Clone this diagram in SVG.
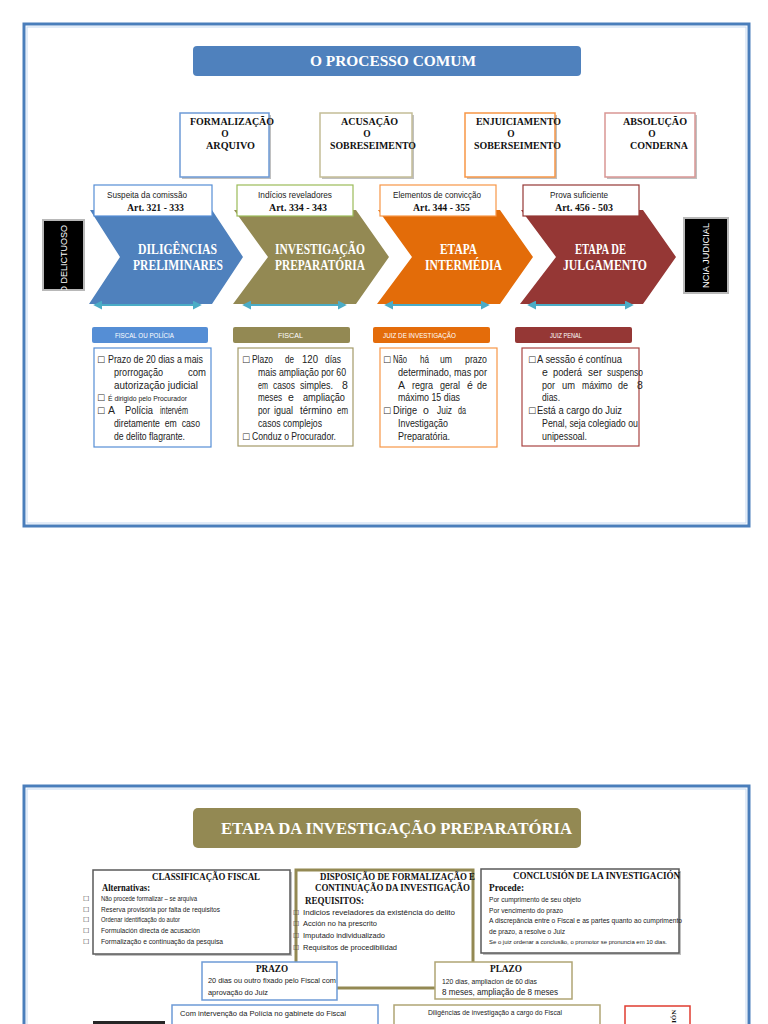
<svg xmlns="http://www.w3.org/2000/svg" width="768" height="1024" viewBox="0 0 768 1024">
<defs>
<style>
.sv{font-family:"Liberation Serif","Times New Roman",serif;font-weight:bold;fill:#111;}
.hw{font-family:"Liberation Serif","Times New Roman",serif;font-weight:bold;fill:#fff;}
.ss{font-family:"Liberation Sans",Arial,sans-serif;fill:#222;}
.t{font-family:"Liberation Sans",Arial,sans-serif;font-size:10.5px;fill:#222;}
.s7{font-family:"Liberation Sans",Arial,sans-serif;font-size:7px;fill:#222;}
.cb{font-family:"DejaVu Sans",sans-serif;font-size:9px;fill:#333;}
.lw{font-family:"Liberation Sans",Arial,sans-serif;font-size:7px;fill:#fff;}
.frame{fill:#fff;stroke:#4a7ebb;stroke-width:3;}
.frin{fill:none;stroke:#c6d9f1;stroke-width:1;}
.shadow{fill:#8c8c8c;opacity:0.55;}
.dbl{stroke:#4bacc6;stroke-width:2;fill:none;marker-start:url(#ah);marker-end:url(#ah);}
</style>
<marker id="ah" viewBox="0 0 10 10" refX="8" refY="5" markerWidth="4.5" markerHeight="4.5" orient="auto-start-reverse"><path d="M0,0 L10,5 L0,10 z" fill="#4bacc6"/></marker>
<clipPath id="clL"><rect x="43" y="220" width="41" height="70"/></clipPath>
<clipPath id="clR"><rect x="684" y="218" width="44" height="75"/></clipPath>
</defs>

<!-- PANEL 1 -->
<rect class="frame" x="24" y="24" width="725" height="502"/>
<rect class="frin" x="27" y="27" width="719" height="496"/>

<g id="title1">
<rect x="193" y="46" width="388" height="30" rx="4" fill="#4f81bd"/>
<text class="hw" x="310" y="66" font-size="15" textLength="166" lengthAdjust="spacingAndGlyphs">O PROCESSO COMUM</text>
</g>

<g id="box-formalizacao">
<rect class="shadow" x="182" y="115" width="89" height="64"/>
<rect x="180" y="113" width="89" height="64" fill="#fff" stroke="#6d9ad6" stroke-width="1.5"/>
<text class="sv" x="190" y="125" font-size="9.5" textLength="84" lengthAdjust="spacingAndGlyphs">FORMALIZAÇÃO</text>
<text class="sv" x="225" y="137" font-size="9.5" text-anchor="middle">O</text>
<text class="sv" x="206" y="149" font-size="9.5" textLength="49" lengthAdjust="spacingAndGlyphs">ARQUIVO</text>
</g>
<g id="box-acusacao">
<rect class="shadow" x="322" y="115" width="92" height="64"/>
<rect x="320" y="113" width="92" height="64" fill="#fff" stroke="#c4bd97" stroke-width="1.5"/>
<text class="sv" x="341" y="125" font-size="9.5" textLength="57" lengthAdjust="spacingAndGlyphs">ACUSAÇÃO</text>
<text class="sv" x="367" y="137" font-size="9.5" text-anchor="middle">O</text>
<text class="sv" x="330" y="149" font-size="9.5" textLength="86" lengthAdjust="spacingAndGlyphs">SOBRESEIMENTO</text>
</g>
<g id="box-enjuiciamento">
<rect class="shadow" x="467" y="115" width="90" height="64"/>
<rect x="465" y="113" width="90" height="64" fill="#fff" stroke="#f79646" stroke-width="1.5"/>
<text class="sv" x="476" y="125" font-size="9.5" textLength="85" lengthAdjust="spacingAndGlyphs">ENJUICIAMENTO</text>
<text class="sv" x="511" y="137" font-size="9.5" text-anchor="middle">O</text>
<text class="sv" x="474" y="149" font-size="9.5" textLength="87" lengthAdjust="spacingAndGlyphs">SOBERSEIMENTO</text>
</g>
<g id="box-absolucao">
<rect class="shadow" x="607" y="115" width="90" height="64"/>
<rect x="605" y="113" width="90" height="64" fill="#fff" stroke="#d99694" stroke-width="1.5"/>
<text class="sv" x="623" y="125" font-size="9.5" textLength="64" lengthAdjust="spacingAndGlyphs">ABSOLUÇÃO</text>
<text class="sv" x="652" y="137" font-size="9.5" text-anchor="middle">O</text>
<text class="sv" x="630" y="149" font-size="9.5" textLength="58" lengthAdjust="spacingAndGlyphs">CONDERNA</text>
</g>

<g id="fato-delictuoso">
<rect x="43" y="220" width="41" height="70" fill="#000" stroke="#b8b8b8" stroke-width="2"/>
<g clip-path="url(#clL)">
<text class="ss" transform="translate(66.5,225) rotate(-90)" font-size="9" style="fill:#fff" text-anchor="end">O DELICTUOSO</text>
</g>
</g>
<g id="sentencia-judicial">
<rect x="684" y="218" width="44" height="75" fill="#000" stroke="#b8b8b8" stroke-width="2"/>
<g clip-path="url(#clR)">
<text class="ss" transform="translate(709,223) rotate(-90)" font-size="9" style="fill:#fff" text-anchor="end" textLength="65" lengthAdjust="spacingAndGlyphs">NCIA JUDICIAL</text>
</g>
</g>

<g id="chev-diligencias">
<polygon points="90,210 212,210 243,257 212,304 89,304 120,257" fill="#4f81bd"/>
<text class="hw" x="138" y="254" font-size="14" textLength="79" lengthAdjust="spacingAndGlyphs">DILIGÊNCIAS</text>
<text class="hw" x="133" y="270" font-size="14" textLength="90" lengthAdjust="spacingAndGlyphs">PRELIMINARES</text>
</g>
<g id="chev-investigacao">
<polygon points="234,210 356,210 389,257 356,304 233,304 268,257" fill="#938953"/>
<text class="hw" x="275" y="254" font-size="14" textLength="90" lengthAdjust="spacingAndGlyphs">INVESTIGAÇÃO</text>
<text class="hw" x="275" y="270" font-size="14" textLength="90" lengthAdjust="spacingAndGlyphs">PREPARATÓRIA</text>
</g>
<g id="chev-intermedia">
<polygon points="378,210 500,210 533,257 500,304 377,304 412,257" fill="#e36c09"/>
<text class="hw" x="440" y="254" font-size="14" textLength="37" lengthAdjust="spacingAndGlyphs">ETAPA</text>
<text class="hw" x="425" y="270" font-size="14" textLength="77" lengthAdjust="spacingAndGlyphs">INTERMÉDIA</text>
</g>
<g id="chev-julgamento">
<polygon points="521,210 643,210 676,257 643,304 520,304 556,257" fill="#953735"/>
<text class="hw" x="575" y="254" font-size="14" textLength="51" lengthAdjust="spacingAndGlyphs">ETAPA DE</text>
<text class="hw" x="563" y="270" font-size="14" textLength="84" lengthAdjust="spacingAndGlyphs">JULGAMENTO</text>
</g>

<g id="art-321">
<rect x="94" y="185" width="118" height="31" fill="#fff" stroke="#558ed5" stroke-width="1.2"/>
<text class="ss" x="107" y="198" font-size="9" textLength="80" lengthAdjust="spacingAndGlyphs">Suspeita da comissão</text>
<text class="sv" x="127" y="211" font-size="9.5" textLength="57" lengthAdjust="spacingAndGlyphs">Art. 321 - 333</text>
</g>
<g id="art-334">
<rect x="237" y="185" width="116" height="31" fill="#fff" stroke="#9bbb59" stroke-width="1.2"/>
<text class="ss" x="258" y="198" font-size="9" textLength="74" lengthAdjust="spacingAndGlyphs">Indícios reveladores</text>
<text class="sv" x="269" y="211" font-size="9.5" textLength="58" lengthAdjust="spacingAndGlyphs">Art. 334 - 343</text>
</g>
<g id="art-344">
<rect x="380" y="185" width="116" height="31" fill="#fff" stroke="#f79646" stroke-width="1.2"/>
<text class="ss" x="393" y="198" font-size="9" textLength="88" lengthAdjust="spacingAndGlyphs">Elementos de convicção</text>
<text class="sv" x="413" y="211" font-size="9.5" textLength="57" lengthAdjust="spacingAndGlyphs">Art. 344 - 355</text>
</g>
<g id="art-456">
<rect x="523" y="185" width="116" height="31" fill="#fff" stroke="#953735" stroke-width="1.2"/>
<text class="ss" x="550" y="198" font-size="9" textLength="58" lengthAdjust="spacingAndGlyphs">Prova suficiente</text>
<text class="sv" x="555" y="211" font-size="9.5" textLength="58" lengthAdjust="spacingAndGlyphs">Art. 456 - 503</text>
</g>

<g id="connectors">
<line class="dbl" x1="95" y1="305" x2="200" y2="305"/>
<line class="dbl" x1="244" y1="305" x2="345" y2="305"/>
<line class="dbl" x1="386" y1="305" x2="488" y2="305"/>
<line class="dbl" x1="529" y1="305" x2="632" y2="305"/>
</g>

<g id="lbl-fiscal-policia">
<rect x="92" y="327" width="116" height="16" rx="2" fill="#558ed5"/>
<text class="lw" x="115" y="338" textLength="59" lengthAdjust="spacingAndGlyphs">FISCAL OU POLÍCIA</text>
</g>
<g id="lbl-fiscal">
<rect x="233" y="327" width="117" height="16" rx="2" fill="#938953"/>
<text class="lw" x="278" y="338" textLength="25" lengthAdjust="spacingAndGlyphs">FISCAL</text>
</g>
<g id="lbl-juiz-investigacao">
<rect x="373" y="327" width="117" height="16" rx="2" fill="#e46c0a"/>
<text class="lw" x="383" y="338" textLength="73" lengthAdjust="spacingAndGlyphs">JUIZ DE INVESTIGAÇÃO</text>
</g>
<g id="lbl-juiz-penal">
<rect x="515" y="327" width="117" height="16" rx="2" fill="#953735"/>
<text class="lw" x="550" y="338" textLength="32" lengthAdjust="spacingAndGlyphs">JUIZ PENAL</text>
</g>

<g id="txt-diligencias">
<rect x="94" y="348" width="117" height="99" fill="#fff" stroke="#558ed5" stroke-width="1.2"/>
<text class="cb" x="97" y="363">☐</text>
<text class="t" x="108" y="363" textLength="95" lengthAdjust="spacingAndGlyphs">Prazo de 20 dias a mais</text>
<text class="t" x="114" y="376" textLength="49" lengthAdjust="spacingAndGlyphs">prorrogação</text>
<text class="t" x="188" y="376" textLength="18" lengthAdjust="spacingAndGlyphs">com</text>
<text class="t" x="114" y="389" textLength="84" lengthAdjust="spacingAndGlyphs">autorização judicial</text>
<text class="cb" x="97" y="401">☐</text>
<text class="t" x="108" y="401" style="font-size:8px" textLength="79" lengthAdjust="spacingAndGlyphs">É dirigido pelo Procurador</text>
<text class="cb" x="97" y="414">☐</text>
<text class="t" x="108" y="414">A</text>
<text class="t" x="125" y="414" textLength="28" lengthAdjust="spacingAndGlyphs">Polícia</text>
<text class="t" x="160" y="414" textLength="28" lengthAdjust="spacingAndGlyphs">intervém</text>
<text class="t" x="114" y="427" xml:space="preserve" textLength="86" lengthAdjust="spacingAndGlyphs">diretamente  em  caso</text>
<text class="t" x="114" y="440" textLength="71" lengthAdjust="spacingAndGlyphs">de delito flagrante.</text>
</g>

<g id="txt-fiscal">
<rect x="238" y="348" width="115" height="98" fill="#fff" stroke="#a39a68" stroke-width="1.2"/>
<text class="cb" x="242" y="363">☐</text>
<text class="t" x="252" y="363" textLength="21" lengthAdjust="spacingAndGlyphs">Plazo</text>
<text class="t" x="285" y="363" textLength="9" lengthAdjust="spacingAndGlyphs">de</text>
<text class="t" x="302" y="363" textLength="16" lengthAdjust="spacingAndGlyphs">120</text>
<text class="t" x="325" y="363" textLength="16" lengthAdjust="spacingAndGlyphs">días</text>
<text class="t" x="258" y="376" textLength="88" lengthAdjust="spacingAndGlyphs">mais ampliação por 60</text>
<text class="t" x="258" y="389" textLength="10" lengthAdjust="spacingAndGlyphs">em</text>
<text class="t" x="273" y="389" textLength="22" lengthAdjust="spacingAndGlyphs">casos</text>
<text class="t" x="300" y="389" textLength="33" lengthAdjust="spacingAndGlyphs">simples.</text>
<text class="t" x="342" y="389">8</text>
<text class="t" x="258" y="401" textLength="24" lengthAdjust="spacingAndGlyphs">meses</text>
<text class="t" x="288" y="401">e</text>
<text class="t" x="303" y="401" textLength="42" lengthAdjust="spacingAndGlyphs">ampliação</text>
<text class="t" x="258" y="414" textLength="12" lengthAdjust="spacingAndGlyphs">por</text>
<text class="t" x="274" y="414" textLength="19" lengthAdjust="spacingAndGlyphs">igual</text>
<text class="t" x="300" y="414" textLength="32" lengthAdjust="spacingAndGlyphs">término</text>
<text class="t" x="337" y="414" textLength="11" lengthAdjust="spacingAndGlyphs">em</text>
<text class="t" x="258" y="427" textLength="64" lengthAdjust="spacingAndGlyphs">casos complejos</text>
<text class="cb" x="242" y="440">☐</text>
<text class="t" x="252" y="440" textLength="84" lengthAdjust="spacingAndGlyphs">Conduz o Procurador.</text>
</g>

<g id="txt-juiz-investigacao">
<rect x="380" y="348" width="117" height="99" fill="#fff" stroke="#f79646" stroke-width="1.2"/>
<text class="cb" x="383" y="363">☐</text>
<text class="t" x="393" y="363" textLength="14" lengthAdjust="spacingAndGlyphs">Não</text>
<text class="t" x="420" y="363" textLength="9" lengthAdjust="spacingAndGlyphs">há</text>
<text class="t" x="440" y="363" textLength="12" lengthAdjust="spacingAndGlyphs">um</text>
<text class="t" x="465" y="363" textLength="22" lengthAdjust="spacingAndGlyphs">prazo</text>
<text class="t" x="398" y="376" textLength="89" lengthAdjust="spacingAndGlyphs">determinado, mas por</text>
<text class="t" x="398" y="389">A</text>
<text class="t" x="412" y="389" textLength="21" lengthAdjust="spacingAndGlyphs">regra</text>
<text class="t" x="440" y="389" textLength="20" lengthAdjust="spacingAndGlyphs">geral</text>
<text class="t" x="467" y="389">é</text>
<text class="t" x="477" y="389" textLength="10" lengthAdjust="spacingAndGlyphs">de</text>
<text class="t" x="398" y="401" textLength="62" lengthAdjust="spacingAndGlyphs">máximo 15 dias</text>
<text class="cb" x="383" y="414">☐</text>
<text class="t" x="393" y="414" textLength="24" lengthAdjust="spacingAndGlyphs">Dirige</text>
<text class="t" x="423" y="414">o</text>
<text class="t" x="437" y="414" textLength="15" lengthAdjust="spacingAndGlyphs">Juiz</text>
<text class="t" x="458" y="414" textLength="8" lengthAdjust="spacingAndGlyphs">da</text>
<text class="t" x="398" y="427" textLength="50" lengthAdjust="spacingAndGlyphs">Investigação</text>
<text class="t" x="398" y="440" textLength="52" lengthAdjust="spacingAndGlyphs">Preparatória.</text>
</g>

<g id="txt-juiz-penal">
<rect x="522" y="348" width="117" height="98" fill="#fff" stroke="#a94442" stroke-width="1.2"/>
<text class="cb" x="528" y="363">☐</text>
<text class="t" x="537" y="363" textLength="85" lengthAdjust="spacingAndGlyphs">A sessão é contínua</text>
<text class="t" x="542" y="376">e</text>
<text class="t" x="553" y="376" textLength="29" lengthAdjust="spacingAndGlyphs">poderá</text>
<text class="t" x="588" y="376" textLength="14" lengthAdjust="spacingAndGlyphs">ser</text>
<text class="t" x="607" y="376" textLength="36" lengthAdjust="spacingAndGlyphs">suspenso</text>
<text class="t" x="542" y="389" textLength="13" lengthAdjust="spacingAndGlyphs">por</text>
<text class="t" x="562" y="389" textLength="13" lengthAdjust="spacingAndGlyphs">um</text>
<text class="t" x="582" y="389" textLength="30" lengthAdjust="spacingAndGlyphs">máximo</text>
<text class="t" x="618" y="389" textLength="10" lengthAdjust="spacingAndGlyphs">de</text>
<text class="t" x="637" y="389">8</text>
<text class="t" x="542" y="401" textLength="18" lengthAdjust="spacingAndGlyphs">dias.</text>
<text class="cb" x="528" y="414">☐</text>
<text class="t" x="537" y="414" textLength="85" lengthAdjust="spacingAndGlyphs">Está a cargo do Juiz</text>
<text class="t" x="542" y="427" textLength="96" lengthAdjust="spacingAndGlyphs">Penal, seja colegiado ou</text>
<text class="t" x="542" y="440" textLength="45" lengthAdjust="spacingAndGlyphs">unipessoal.</text>
</g>

<!-- PANEL 2 -->
<rect class="frame" x="24" y="786" width="725" height="260"/>
<rect class="frin" x="27" y="789" width="719" height="254"/>

<g id="title2">
<rect x="193" y="808" width="388" height="40" rx="5" fill="#938953"/>
<text class="hw" x="221" y="834" font-size="17" textLength="351" lengthAdjust="spacingAndGlyphs">ETAPA DA INVESTIGAÇÃO PREPARATÓRIA</text>
</g>

<g id="classificacao-fiscal">
<rect class="shadow" x="95" y="872" width="197" height="84"/>
<rect x="93" y="870" width="197" height="84" fill="#fff" stroke="#595959" stroke-width="1.5"/>
<text class="sv" x="152" y="880" font-size="10" textLength="108" lengthAdjust="spacingAndGlyphs">CLASSIFICAÇÃO FISCAL</text>
<text class="sv" x="102" y="891" font-size="10" textLength="48" lengthAdjust="spacingAndGlyphs">Alternativas:</text>
<text class="cb" x="83" y="901" style="font-size:7px">☐</text>
<text class="s7" x="101" y="901" textLength="96" lengthAdjust="spacingAndGlyphs">Não procede formalizar – se arquiva</text>
<text class="cb" x="83" y="912" style="font-size:7px">☐</text>
<text class="s7" x="101" y="912" textLength="119" lengthAdjust="spacingAndGlyphs">Reserva provisória por falta de requisitos</text>
<text class="cb" x="83" y="922" style="font-size:7px">☐</text>
<text class="s7" x="101" y="922" textLength="79" lengthAdjust="spacingAndGlyphs">Ordenar identificação do autor</text>
<text class="cb" x="83" y="933" style="font-size:7px">☐</text>
<text class="s7" x="101" y="933" textLength="99" lengthAdjust="spacingAndGlyphs">Formulación directa de acusación</text>
<text class="cb" x="83" y="944" style="font-size:7px">☐</text>
<text class="s7" x="101" y="944" textLength="122" lengthAdjust="spacingAndGlyphs">Formalização e continuação da pesquisa</text>
</g>

<g id="disposicao">
<rect x="296" y="870" width="177" height="118" fill="#fff" stroke="#938953" stroke-width="3"/>
<text class="sv" x="320" y="880" font-size="10" textLength="155" lengthAdjust="spacingAndGlyphs">DISPOSIÇÃO DE FORMALIZAÇÃO E</text>
<text class="sv" x="315" y="891" font-size="10" textLength="155" lengthAdjust="spacingAndGlyphs">CONTINUAÇÃO DA INVESTIGAÇÃO</text>
<text class="sv" x="305" y="904" font-size="10" textLength="59" lengthAdjust="spacingAndGlyphs">REQUISITOS:</text>
<text class="cb" x="293" y="915" style="font-size:7px">☐</text>
<text class="s7" x="303" y="915" style="font-size:7.5px" textLength="152" lengthAdjust="spacingAndGlyphs">Indicios reveladores da existência do delito</text>
<text class="cb" x="293" y="926" style="font-size:7px">☐</text>
<text class="s7" x="303" y="926" style="font-size:7.5px" textLength="74" lengthAdjust="spacingAndGlyphs">Acción no ha prescrito</text>
<text class="cb" x="293" y="938" style="font-size:7px">☐</text>
<text class="s7" x="303" y="938" style="font-size:7.5px" textLength="82" lengthAdjust="spacingAndGlyphs">Imputado individualizado</text>
<text class="cb" x="293" y="950" style="font-size:7px">☐</text>
<text class="s7" x="303" y="950" style="font-size:7.5px" textLength="94" lengthAdjust="spacingAndGlyphs">Requisitos de procedibilidad</text>
</g>

<g id="conclusion">
<rect class="shadow" x="483" y="871" width="198" height="84"/>
<rect x="481" y="869" width="198" height="84" fill="#fff" stroke="#595959" stroke-width="1.5"/>
<text class="sv" x="513" y="879" font-size="10" textLength="167" lengthAdjust="spacingAndGlyphs">CONCLUSIÓN DE LA INVESTIGACIÓN</text>
<text class="sv" x="489" y="891" font-size="10" textLength="35" lengthAdjust="spacingAndGlyphs">Procede:</text>
<text class="s7" x="489" y="902" textLength="92" lengthAdjust="spacingAndGlyphs">Por cumprimento de seu objeto</text>
<text class="s7" x="489" y="913" textLength="74" lengthAdjust="spacingAndGlyphs">Por vencimento do prazo</text>
<text class="s7" x="489" y="923" textLength="193" lengthAdjust="spacingAndGlyphs">A discrepância entre o Fiscal e as partes quanto ao cumprimento</text>
<text class="s7" x="489" y="934" textLength="76" lengthAdjust="spacingAndGlyphs">de prazo, a resolve o Juiz</text>
<text class="s7" x="489" y="944" style="font-size:6px" textLength="178" lengthAdjust="spacingAndGlyphs">Se o juiz ordenar a conclusão, o promotor se pronuncia em 10 dias.</text>
</g>

<g id="prazo">
<rect x="202" y="962" width="135" height="38" fill="#fff" stroke="#6d9ad6" stroke-width="1.5"/>
<text class="sv" x="256" y="972" font-size="10" textLength="32" lengthAdjust="spacingAndGlyphs">PRAZO</text>
<text class="s7" x="208" y="983" style="font-size:7.5px" textLength="128" lengthAdjust="spacingAndGlyphs">20 dias ou outro fixado pelo Fiscal com</text>
<text class="s7" x="208" y="995" style="font-size:7.5px" textLength="60" lengthAdjust="spacingAndGlyphs">aprovação do Juiz</text>
</g>

<g id="plazo">
<rect x="435" y="962" width="137" height="37" fill="#fff" stroke="#b0a574" stroke-width="1.5"/>
<text class="sv" x="490" y="972" font-size="10" textLength="32" lengthAdjust="spacingAndGlyphs">PLAZO</text>
<text class="s7" x="442" y="984" style="font-size:7.5px" textLength="95" lengthAdjust="spacingAndGlyphs">120 dias, ampliacion de 60 dias</text>
<text class="s7" x="442" y="995" style="font-size:9.5px" textLength="116" lengthAdjust="spacingAndGlyphs">8 meses, ampliação de 8 meses</text>
</g>

<g id="policia-gabinete">
<rect x="172" y="1005" width="206" height="30" fill="#fff" stroke="#6d9ad6" stroke-width="1.5"/>
<text class="s7" x="180" y="1016" style="font-size:8px" textLength="166" lengthAdjust="spacingAndGlyphs">Com intervenção da Polícia no gabinete do Fiscal</text>
</g>
<g id="diligencias-fiscal">
<rect x="394" y="1005" width="206" height="30" fill="#fff" stroke="#b0a574" stroke-width="1.5"/>
<text class="s7" x="428" y="1015" style="font-size:6.5px" textLength="134" lengthAdjust="spacingAndGlyphs">Diligências de investigação a cargo do Fiscal</text>
</g>
<g id="black-bottom">
<rect x="93" y="1021" width="72" height="12" fill="#262626"/>
</g>
<g id="red-bottom">
<rect x="625" y="1006" width="65" height="30" fill="#fff" stroke="#e03c31" stroke-width="1.5"/>
<text class="sv" transform="translate(676,1023) rotate(-90)" font-size="7">IÓN</text>
</g>
</svg>
